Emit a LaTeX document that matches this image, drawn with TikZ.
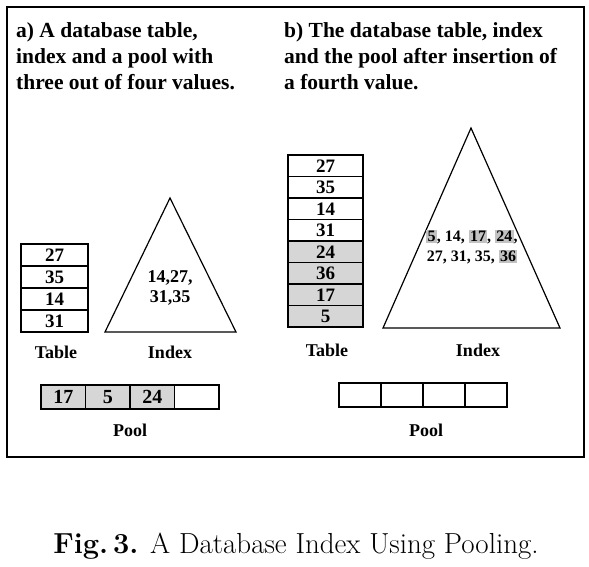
\documentclass[tikz,border=0pt]{standalone}
\usepackage{fontspec}
\newfontfamily\figfont{Liberation Serif}
\usetikzlibrary{positioning}
\definecolor{cellgrey}{gray}{0.84}
\definecolor{markgrey}{gray}{0.76}
\newcommand{\hlval}[1]{{\setlength{\fboxsep}{1.2pt}\colorbox{markgrey}{#1}}}
\begin{document}
\begin{tikzpicture}[x=1pt, y=-1pt,
        cell/.style={rectangle, draw, line width=1.6pt, inner sep=0pt, outer sep=0pt,
            minimum width=67pt, minimum height=22pt, font=\figfont\bfseries\fontsize{19}{19}\selectfont},
        bigcell/.style={cell, minimum width=75pt, minimum height=21.5pt},
        poolcell/.style={cell, minimum width=44.5pt, minimum height=24pt, font=\figfont\bfseries\fontsize{20}{20}\selectfont},
        newpoolcell/.style={cell, minimum width=42pt, minimum height=24pt},
        used/.style={fill=cellgrey},
        tri/.style={draw, line width=1.2pt, line join=miter},
        label/.style={font=\figfont\bfseries\fontsize{18}{20}\selectfont, inner sep=0pt},
        title/.style={anchor=north west, align=left, inner sep=0pt, font=\figfont\bfseries\fontsize{21.5}{26}\selectfont}
    ]
        \useasboundingbox (0,0) rectangle (589,566);
        \draw[line width=1.8pt] (7,7) rectangle (584,457);

        % a) before insertion
        \node[title] (titlea) at (16,22) {a) A database table,\\index and a pool with\\three out of four values.};
        \node[cell] (ta1) at (54.5,255) {27};
        \node[cell, below=0pt of ta1] (ta2) {35};
        \node[cell, below=0pt of ta2] (ta3) {14};
        \node[cell, below=0pt of ta3] (ta4) {31};
        \coordinate (ia) at (170,198);
        \coordinate (ib) at (105,332);
        \coordinate (ic) at (236,332);
        \draw[tri] (ia) -- (ib) -- (ic) -- cycle;
        \node[label, align=center] (keysa) at (170,288) {14,27,\\31,35};
        \node[label] (tablea) at (56,352) {Table};
        \node[label] (indexa) at (170,352) {Index};
        \node[poolcell, used] (pa1) at (63.25,397) {17};
        \node[poolcell, used, right=0pt of pa1] (pa2) {5};
        \node[poolcell, used, right=0pt of pa2] (pa3) {24};
        \node[poolcell, right=0pt of pa3] (pa4) {};
        \node[label] (poola) at (130,430) {Pool};

        % b) after insertion
        \node[title] (titleb) at (284,22) {b) The database table, index\\and the pool after insertion of\\a fourth value.};
        \node[bigcell] (tb1) at (325.5,165.75) {27};
        \node[bigcell, below=0pt of tb1] (tb2) {35};
        \node[bigcell, below=0pt of tb2] (tb3) {14};
        \node[bigcell, below=0pt of tb3] (tb4) {31};
        \node[bigcell, used, below=0pt of tb4] (tb5) {24};
        \node[bigcell, used, below=0pt of tb5] (tb6) {36};
        \node[bigcell, used, below=0pt of tb6] (tb7) {17};
        \node[bigcell, used, below=0pt of tb7] (tb8) {5};
        \coordinate (ja) at (471,128);
        \coordinate (jb) at (383,328);
        \coordinate (jc) at (560,328);
        \draw[tri] (ja) -- (jb) -- (jc) -- cycle;
        \node[label, align=center, font=\figfont\bfseries\fontsize{16}{20}\selectfont] (keysb) at (472,247)
            {\hlval{5}, 14, \hlval{17}, \hlval{24},\\27, 31, 35, \hlval{36}};
        \node[label] (tableb) at (327,350) {Table};
        \node[label] (indexb) at (478,350) {Index};
        \node[newpoolcell] (pb1) at (360,395) {};
        \node[newpoolcell, right=0pt of pb1] (pb2) {};
        \node[newpoolcell, right=0pt of pb2] (pb3) {};
        \node[newpoolcell, right=0pt of pb3] (pb4) {};
        \node[label] (poolb) at (426,430) {Pool};

        \node[anchor=base, inner sep=0pt, font=\fontsize{29}{34}\selectfont] (caption) at (296,553)
            {\textbf{Fig.\,3.} A Database Index Using Pooling.};
    \end{tikzpicture}
\end{document}
